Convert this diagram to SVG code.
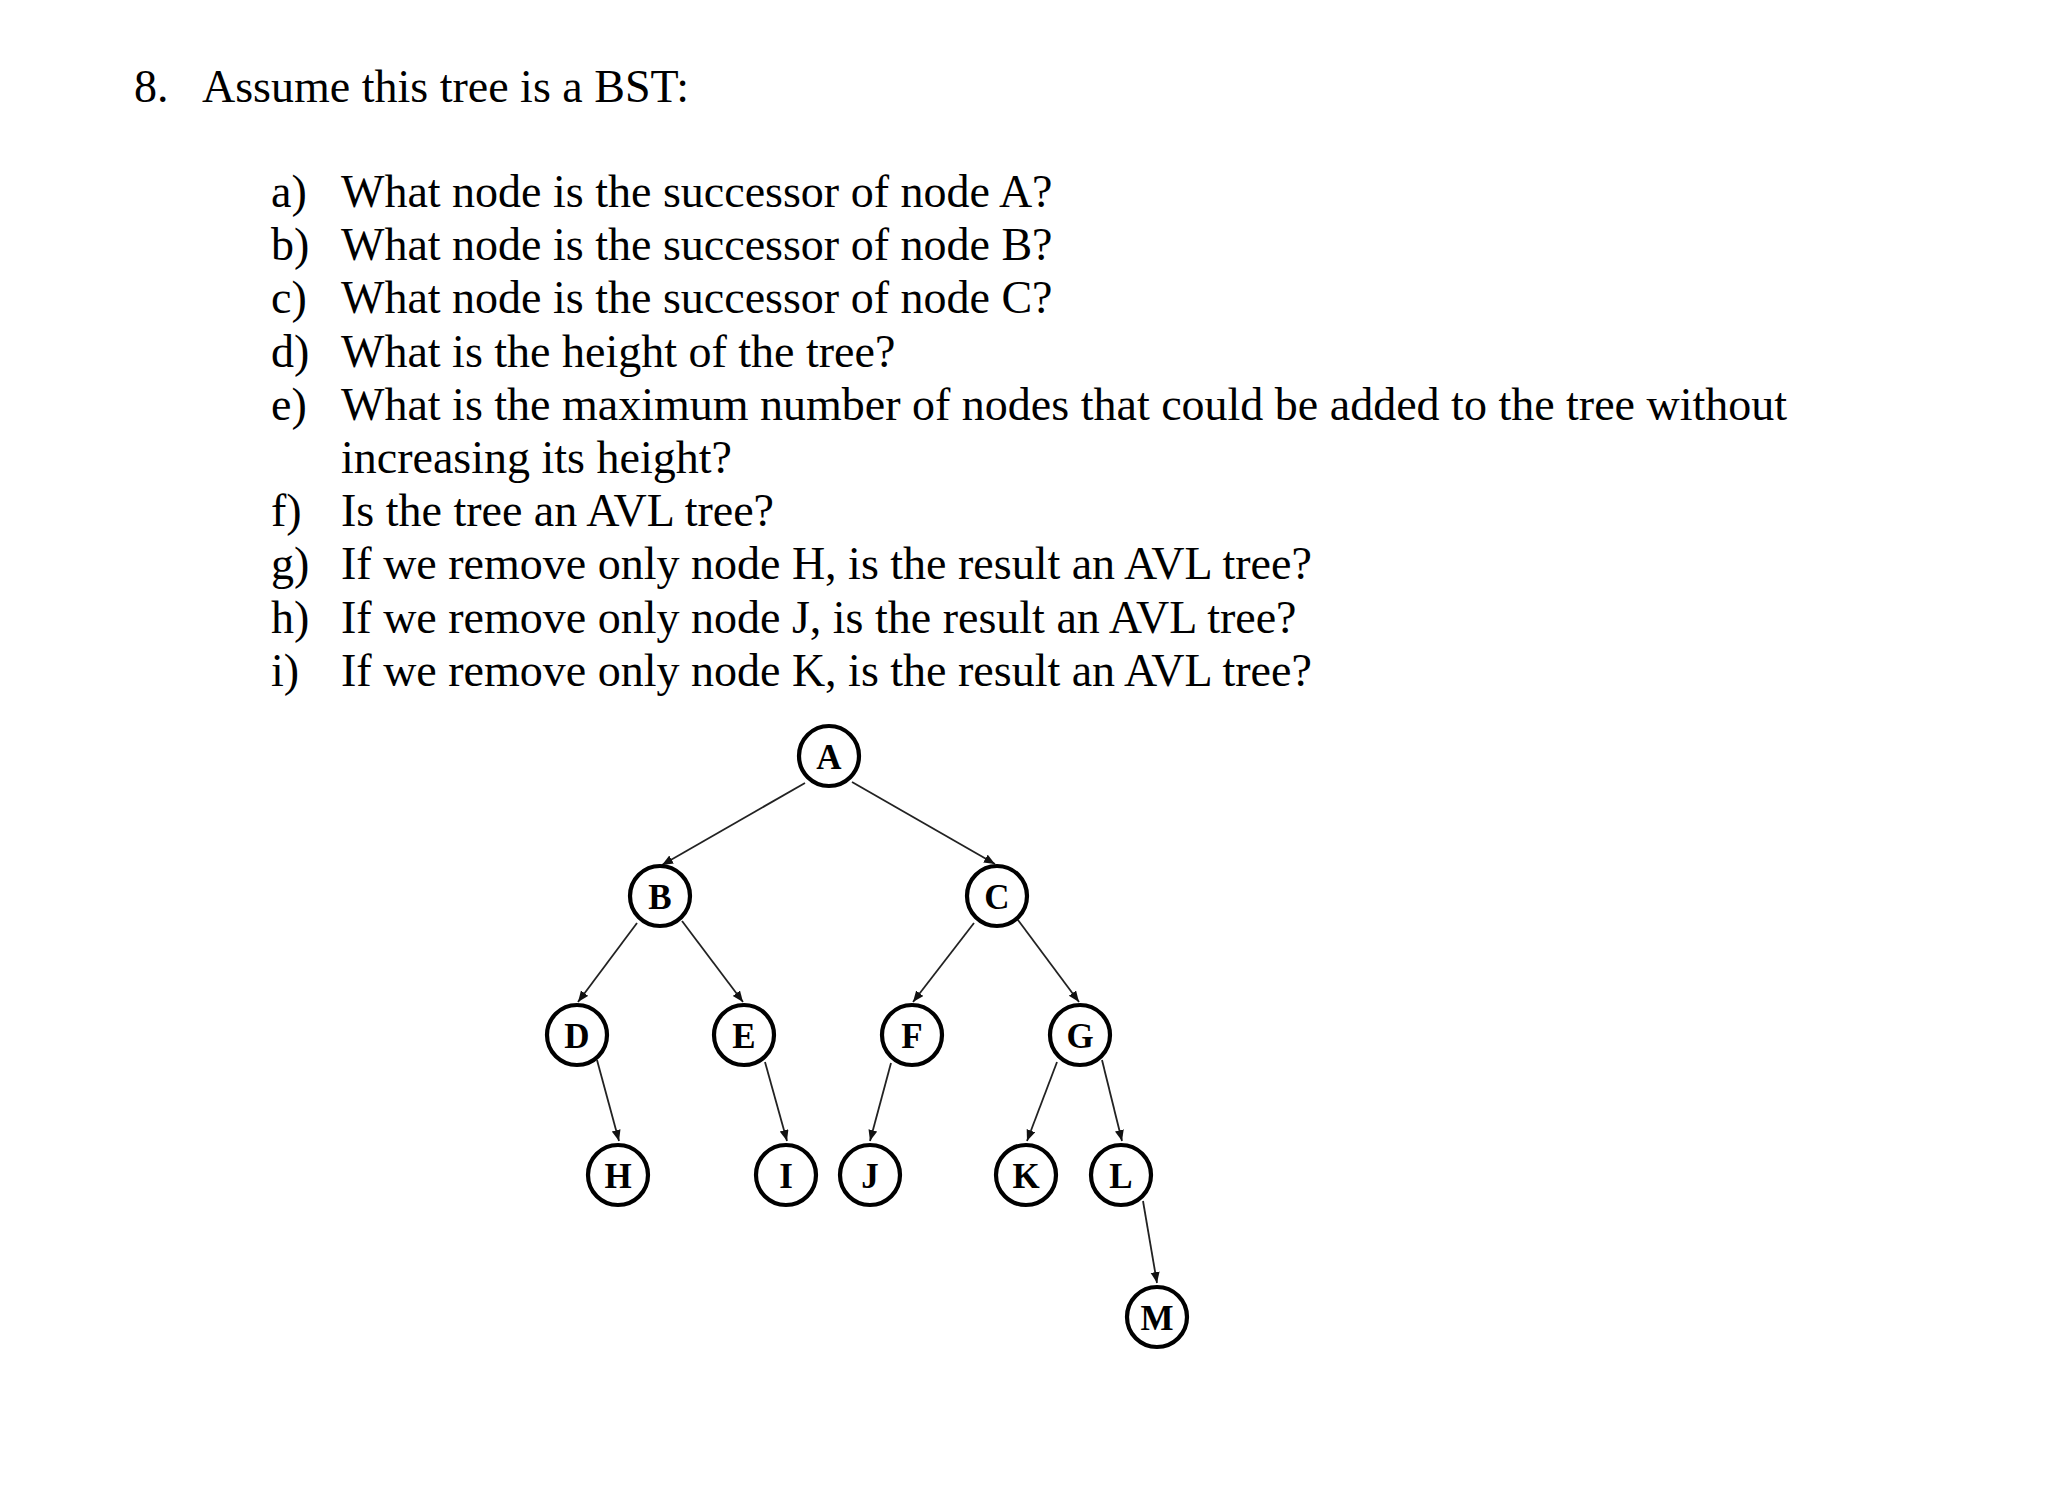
<svg xmlns="http://www.w3.org/2000/svg" width="2046" height="1500" viewBox="0 0 2046 1500">
<style>
.q{font-family:"Liberation Serif","Times New Roman",serif;font-size:46px;fill:#000}
.n circle{fill:#fff;stroke:#000;stroke-width:4.2}
.n text{font-family:"Liberation Serif","Times New Roman",serif;font-weight:bold;font-size:35px;text-anchor:middle;fill:#000}
.e line{stroke:#222;stroke-width:1.8;marker-end:url(#ah)}
</style>
<defs>
<marker id="ah" markerUnits="userSpaceOnUse" markerWidth="12" markerHeight="10" refX="11" refY="4.5" orient="auto">
<path d="M0,0 L11,4.5 L0,9 z" fill="#111"/>
</marker>
</defs>
<rect width="2046" height="1500" fill="#fff"/>
<g id="questions">
<text class="q" x="134" y="102">8.</text>
<text class="q" x="202" y="102">Assume this tree is a BST:</text>
<text class="q" x="271" y="207">a)</text><text class="q" x="341" y="207">What node is the successor of node A?</text>
<text class="q" x="271" y="260">b)</text><text class="q" x="341" y="260">What node is the successor of node B?</text>
<text class="q" x="271" y="313">c)</text><text class="q" x="341" y="313">What node is the successor of node C?</text>
<text class="q" x="271" y="367">d)</text><text class="q" x="341" y="367">What is the height of the tree?</text>
<text class="q" x="271" y="420">e)</text><text class="q" x="341" y="420">What is the maximum number of nodes that could be added to the tree without</text>
<text class="q" x="341" y="473">increasing its height?</text>
<text class="q" x="271" y="526">f)</text><text class="q" x="341" y="526">Is the tree an AVL tree?</text>
<text class="q" x="271" y="579">g)</text><text class="q" x="341" y="579">If we remove only node H, is the result an AVL tree?</text>
<text class="q" x="271" y="633">h)</text><text class="q" x="341" y="633">If we remove only node J, is the result an AVL tree?</text>
<text class="q" x="271" y="686">i)</text><text class="q" x="341" y="686">If we remove only node K, is the result an AVL tree?</text>
</g>
<g id="edges" class="e">
<line x1="805" y1="783" x2="662" y2="865"/>
<line x1="852" y1="782" x2="995" y2="864"/>
<line x1="637" y1="923" x2="578" y2="1002"/>
<line x1="682" y1="921" x2="743" y2="1002"/>
<line x1="974" y1="923" x2="913" y2="1002"/>
<line x1="1018" y1="920" x2="1079" y2="1002"/>
<line x1="597" y1="1060" x2="619" y2="1141"/>
<line x1="765" y1="1062" x2="787" y2="1141"/>
<line x1="891" y1="1063" x2="870" y2="1141"/>
<line x1="1057" y1="1062" x2="1027" y2="1141"/>
<line x1="1102" y1="1060" x2="1122" y2="1141"/>
<line x1="1143" y1="1201" x2="1157" y2="1283"/>
</g>
<g id="node-A" class="n"><circle cx="829" cy="756" r="30"/><text x="829" y="769">A</text></g>
<g id="node-B" class="n"><circle cx="660" cy="896" r="30"/><text x="660" y="909">B</text></g>
<g id="node-C" class="n"><circle cx="997" cy="896" r="30"/><text x="997" y="909">C</text></g>
<g id="node-D" class="n"><circle cx="577" cy="1035" r="30"/><text x="577" y="1048">D</text></g>
<g id="node-E" class="n"><circle cx="744" cy="1035" r="30"/><text x="744" y="1048">E</text></g>
<g id="node-F" class="n"><circle cx="912" cy="1035" r="30"/><text x="912" y="1048">F</text></g>
<g id="node-G" class="n"><circle cx="1080" cy="1035" r="30"/><text x="1080" y="1048">G</text></g>
<g id="node-H" class="n"><circle cx="618" cy="1175" r="30"/><text x="618" y="1188">H</text></g>
<g id="node-I" class="n"><circle cx="786" cy="1175" r="30"/><text x="786" y="1188">I</text></g>
<g id="node-J" class="n"><circle cx="870" cy="1175" r="30"/><text x="870" y="1188">J</text></g>
<g id="node-K" class="n"><circle cx="1026" cy="1175" r="30"/><text x="1026" y="1188">K</text></g>
<g id="node-L" class="n"><circle cx="1121" cy="1175" r="30"/><text x="1121" y="1188">L</text></g>
<g id="node-M" class="n"><circle cx="1157" cy="1317" r="30"/><text x="1157" y="1330">M</text></g>
</svg>
